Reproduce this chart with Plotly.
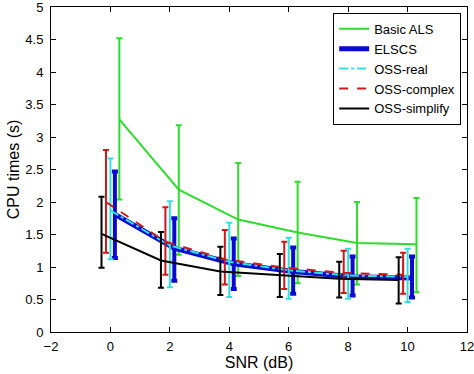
import plotly.graph_objects as go

snr = [0, 2, 4, 6, 8, 10]

series_names = ["Basic ALS", "ELSCS", "OSS-real", "OSS-complex", "OSS-simplify"]

als_mean = [3.27, 2.19, 1.73, 1.53, 1.37, 1.35]
als_upper = [4.52, 3.18, 2.60, 2.31, 2.00, 2.06]
als_lower = [2.04, 1.19, 0.86, 0.75, 0.73, 0.61]

elscs_mean = [1.81, 1.29, 1.05, 0.93, 0.85, 0.83]
elscs_upper = [2.47, 1.75, 1.44, 1.30, 1.16, 1.16]
elscs_lower = [1.14, 0.79, 0.66, 0.59, 0.56, 0.53]

real_mean = [1.87, 1.33, 1.08, 0.95, 0.87, 0.85]
real_upper = [2.67, 2.01, 1.68, 1.45, 1.28, 1.28]
real_lower = [1.12, 0.69, 0.54, 0.51, 0.51, 0.46]

complex_mean = [2.00, 1.39, 1.12, 0.99, 0.91, 0.88]
complex_upper = [2.80, 1.92, 1.57, 1.39, 1.25, 1.22]
complex_lower = [1.22, 0.88, 0.73, 0.66, 0.60, 0.59]

simp_mean = [1.51, 1.10, 0.93, 0.87, 0.82, 0.80]
simp_upper = [2.08, 1.54, 1.31, 1.20, 1.08, 1.15]
simp_lower = [0.99, 0.68, 0.57, 0.54, 0.53, 0.44]

x_ticks = [-2, 0, 2, 4, 6, 8, 10, 12]
y_ticks = [0, 0.5, 1, 1.5, 2, 2.5, 3, 3.5, 4, 4.5, 5]
y_ticklabels = ["0", "0.5", "1", "1.5", "2", "2.5", "3", "3.5", "4", "4.5", "5"]

data = [
    (als_mean, als_upper, als_lower),
    (elscs_mean, elscs_upper, elscs_lower),
    (real_mean, real_upper, real_lower),
    (complex_mean, complex_upper, complex_lower),
    (simp_mean, simp_upper, simp_lower),
]

offsets = [0.3, 0.15, 0.0, -0.15, -0.3]
colors = ["#2edc2e", "#0a0ad0", "#30e0e0", "#d01818", "#000000"]
widths = [2, 5, 2, 2, 2]
dashes = ["solid", "solid", "dashdot", "dash", "solid"]
eb_thick = [2, 4, 2, 2, 2]

fig = go.Figure()
for name, (m, u, l), off, c, w, d, et in zip(series_names, data, offsets, colors, widths, dashes, eb_thick):
    fig.add_trace(go.Scatter(
        x=[s + off for s in snr], y=m, name=name, mode="lines",
        line=dict(color=c, width=w, dash=d),
        error_y=dict(type="data", symmetric=False,
                     array=[a - b for a, b in zip(u, m)],
                     arrayminus=[b - a for a, b in zip(l, m)],
                     color=c, thickness=et, width=3),
    ))

fig.update_layout(
    width=474, height=374,
    margin=dict(l=51, r=7, t=7, b=42, autoexpand=False),
    paper_bgcolor="white", plot_bgcolor="white",
    font=dict(family="Liberation Sans, Arial, sans-serif", size=13, color="black"),
    showlegend=True,
    legend=dict(x=0.986, y=0.982, xanchor="right", yanchor="top",
                bordercolor="black", borderwidth=1, bgcolor="white",
                font=dict(size=13), tracegroupgap=0,
                itemsizing="trace"),
)
fig.update_xaxes(range=[-2, 12], tickvals=x_ticks, ticklabeloverflow="allow",
                 ticklabelstandoff=2,
                 ticks="inside", ticklen=5, tickcolor="black", mirror="ticks",
                 showline=True, linecolor="black", linewidth=1, showgrid=False,
                 zeroline=False, title=dict(text="SNR (dB)", standoff=2))
fig.update_yaxes(range=[0, 5], tickvals=y_ticks, ticktext=y_ticklabels, ticklabeloverflow="allow",
                 ticklabelstandoff=4,
                 ticks="inside", ticklen=5, tickcolor="black", mirror="ticks",
                 showline=True, linecolor="black", linewidth=1, showgrid=False,
                 zeroline=False, title=dict(text="CPU times (s)", standoff=1))

fig.write_html("out.html", config={"displayModeBar": False},
               post_script="document.body.style.margin='0';")
